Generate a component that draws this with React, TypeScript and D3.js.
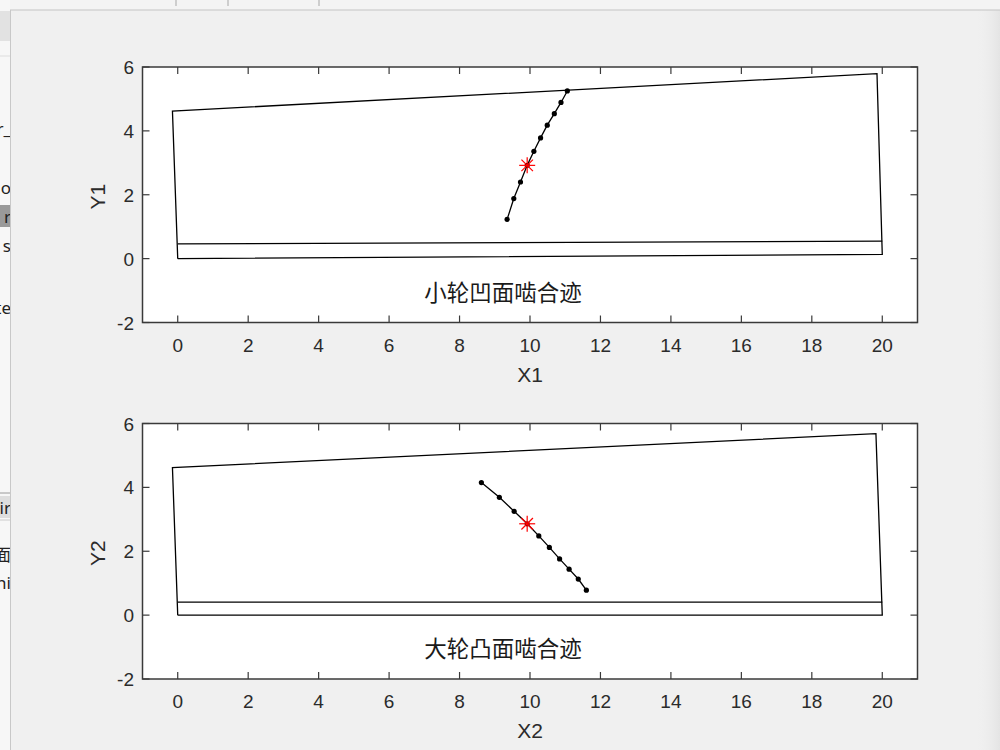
import React from "react";
import * as d3 from "d3";

// ---- data ----
const xTicks = [0, 2, 4, 6, 8, 10, 12, 14, 16, 18, 20];
const yTicks = [-2, 0, 2, 4, 6];
const xDomain = [-1, 21];
const yDomain = [-2, 6];

// small wheel (top)
const smallOutlineX = [0, 20, 19.85, -0.15, 0];
const smallOutlineY = [0, 0.13, 5.79, 4.62, 0];
const smallInnerX = [0, 20];
const smallInnerY = [0.46, 0.55];
const smallPathX = [11.06, 10.88, 10.69, 10.49, 10.3, 10.11, 9.92, 9.73, 9.54, 9.35];
const smallPathY = [5.25, 4.89, 4.54, 4.18, 3.78, 3.36, 2.92, 2.4, 1.88, 1.23];
const smallStar = [9.92, 2.92];
const smallText = "小轮凹面啮合迹";

// large wheel (bottom)
const largeOutlineX = [0, 20, 19.82, -0.15, 0];
const largeOutlineY = [0, 0, 5.68, 4.62, 0];
const largeInnerX = [0, 20];
const largeInnerY = [0.41, 0.41];
const largePathX = [8.62, 9.13, 9.55, 9.92, 10.25, 10.55, 10.84, 11.11, 11.37, 11.6];
const largePathY = [4.15, 3.69, 3.25, 2.86, 2.48, 2.12, 1.76, 1.44, 1.13, 0.78];
const largeStar = [9.92, 2.86];
const largeText = "大轮凸面啮合迹";

const textPos = [7, -1];

const panels = [
  {
    top: 67, xLabel: "X1", yLabel: "Y1",
    outlineX: smallOutlineX, outlineY: smallOutlineY,
    innerX: smallInnerX, innerY: smallInnerY,
    pathX: smallPathX, pathY: smallPathY, star: smallStar, text: smallText,
  },
  {
    top: 423.5, xLabel: "X2", yLabel: "Y2",
    outlineX: largeOutlineX, outlineY: largeOutlineY,
    innerX: largeInnerX, innerY: largeInnerY,
    pathX: largePathX, pathY: largePathY, star: largeStar, text: largeText,
  },
];

const LEFT = 142.5;
const RIGHT = 917.5;
const HEIGHT = 255.5;
const AXIS = "#3a3a3a";
const TXT = "#2b2b2b";
const FONT = "'Liberation Sans', Arial, Helvetica, sans-serif";

function Panel({ p }: { p: any }) {
  const x = d3.scaleLinear().domain(xDomain).range([LEFT, RIGHT]);
  const y = d3.scaleLinear().domain(yDomain).range([p.top + HEIGHT, p.top]);
  const bottom = p.top + HEIGHT;
  const line = d3.line<[number, number]>().x((d) => x(d[0])).y((d) => y(d[1]));
  const outline = p.outlineX.map((v: number, i: number) => [v, p.outlineY[i]]);
  const inner = p.innerX.map((v: number, i: number) => [v, p.innerY[i]]);
  const pts = p.pathX.map((v: number, i: number) => [v, p.pathY[i]]);
  const sx = x(p.star[0]);
  const sy = y(p.star[1]);
  const r = 8;
  const rd = r * 0.72;
  return (
    <g>
      <rect x={LEFT} y={p.top} width={RIGHT - LEFT} height={HEIGHT} fill="#ffffff" />
      <path d={line(outline as any) || ""} fill="none" stroke="#000" strokeWidth={1.3} />
      <path d={line(inner as any) || ""} fill="none" stroke="#000" strokeWidth={1.3} />
      <path d={line(pts as any) || ""} fill="none" stroke="#000" strokeWidth={1.3} />
      {pts.map((d: number[], i: number) => (
        <circle key={i} cx={x(d[0])} cy={y(d[1])} r={2.6} fill="#000" />
      ))}
      <g stroke="#ff0000" strokeWidth={1.2}>
        <line x1={sx - r} y1={sy} x2={sx + r} y2={sy} />
        <line x1={sx} y1={sy - r} x2={sx} y2={sy + r} />
        <line x1={sx - rd} y1={sy - rd} x2={sx + rd} y2={sy + rd} />
        <line x1={sx - rd} y1={sy + rd} x2={sx + rd} y2={sy - rd} />
      </g>
      <text
        x={x(textPos[0])}
        y={y(textPos[1])}
        dominantBaseline="central"
        fontFamily="'Noto Sans CJK SC', sans-serif"
        fontSize={22.5}
        fill="#1a1a1a"
      >
        {p.text}
      </text>
      {/* ticks */}
      <g stroke={AXIS} strokeWidth={1.2}>
        {xTicks.map((t) => (
          <g key={"x" + t}>
            <line x1={x(t)} x2={x(t)} y1={bottom} y2={bottom - 7} />
            <line x1={x(t)} x2={x(t)} y1={p.top} y2={p.top + 7} />
          </g>
        ))}
        {yTicks.map((t) => (
          <g key={"y" + t}>
            <line x1={LEFT} x2={LEFT + 7} y1={y(t)} y2={y(t)} />
            <line x1={RIGHT} x2={RIGHT - 7} y1={y(t)} y2={y(t)} />
          </g>
        ))}
      </g>
      <rect x={LEFT} y={p.top} width={RIGHT - LEFT} height={HEIGHT} fill="none" stroke={AXIS} strokeWidth={1.5} />
      {/* tick labels */}
      <g fontFamily={FONT} fontSize={19} fill={TXT}>
        {xTicks.map((t) => (
          <text key={"xl" + t} x={x(t)} y={bottom + 29} textAnchor="middle">
            {t}
          </text>
        ))}
        {yTicks.map((t) => (
          <text key={"yl" + t} x={LEFT - 8.5} y={y(t) + 7} textAnchor="end">
            {t}
          </text>
        ))}
      </g>
      <text x={x(10)} y={bottom + 59} textAnchor="middle" fontFamily={FONT} fontSize={21} fill={TXT}>
        {p.xLabel}
      </text>
      <text
        transform={`translate(${LEFT - 38},${p.top + HEIGHT / 2 + 2}) rotate(-90)`}
        textAnchor="middle"
        fontFamily={FONT}
        fontSize={21}
        fill={TXT}
      >
        {p.yLabel}
      </text>
    </g>
  );
}

const sideTexts = [
  { y: 135, t: "r_", bg: false },
  { y: 194, t: "o", bg: false },
  { y: 223, t: "r", bg: true },
  { y: 252, t: "s", bg: false },
  { y: 314, t: "te", bg: false },
  { y: 514, t: "ir", bg: true },
  { y: 561, t: "面", bg: false },
  { y: 589, t: "ni", bg: false },
];

export default function App() {
  return (
    <div style={{ position: "fixed", left: 0, top: 0, width: 1000, height: 750 }}>
      <svg width={1000} height={750} style={{ display: "block" }}>
        <defs>
          <clipPath id="sideClip">
            <rect x={0} y={0} width={10} height={750} />
          </clipPath>
          <linearGradient id="edgeGrad" x1="0" x2="1" y1="0" y2="0">
            <stop offset="0" stopColor="#f0f0f0" stopOpacity={0} />
            <stop offset="1" stopColor="#e4e4e4" stopOpacity={1} />
          </linearGradient>
        </defs>
        <rect x={0} y={0} width={1000} height={750} fill="#f0f0f0" />
        <rect x={975} y={0} width={25} height={750} fill="url(#edgeGrad)" />
        {/* top window strip */}
        <rect x={0} y={0} width={1000} height={10} fill="#f4f4f4" />
        <line x1={0} x2={1000} y1={10} y2={10} stroke="#c4c4c4" strokeWidth={1.2} />
        {[176, 228, 319].map((v) => (
          <line key={v} x1={v} x2={v} y1={0} y2={6} stroke="#a8a8a8" strokeWidth={1} />
        ))}
        {/* left side panel */}
        <g clipPath="url(#sideClip)">
          <rect x={0} y={0} width={10} height={750} fill="#f7f7f7" />
          <rect x={0} y={11} width={10} height={30} fill="#e2e2e2" />
          <line x1={0} x2={10} y1={56} y2={56} stroke="#dddddd" />
          {sideTexts.map((s, i) => (
            <g key={i}>
              {s.bg && <rect x={0} y={s.y - 18} width={10} height={22} fill={i === 2 ? "#9a9a9a" : "#dedede"} />}
              <text x={11} y={s.y} textAnchor="end" fontFamily="'Noto Sans', 'Noto Sans CJK SC', sans-serif" fontSize={17} fill="#222">
                {s.t}
              </text>
            </g>
          ))}
          <line x1={0} x2={10} y1={493} y2={493} stroke="#9a9a9a" />
          <line x1={0} x2={10} y1={520} y2={520} stroke="#cccccc" />
        </g>
        <line x1={10.5} x2={10.5} y1={10} y2={750} stroke="#c8c8c8" strokeWidth={1} />
        {panels.map((p, i) => (
          <Panel key={i} p={p} />
        ))}
      </svg>
    </div>
  );
}
